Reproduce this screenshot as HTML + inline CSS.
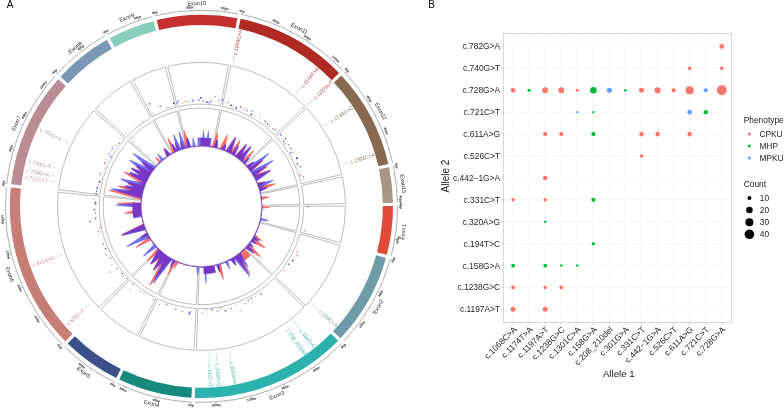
<!DOCTYPE html>
<html><head><meta charset="utf-8"><style>
html,body{margin:0;padding:0;background:#fff;width:784px;height:408px;overflow:hidden}
svg{display:block;font-family:"Liberation Sans", sans-serif;will-change:transform}
</style></head><body>
<svg width="784" height="408" viewBox="0 0 784 408">
<rect width="784" height="408" fill="#fff"/>
<text x="6.7" y="7.9" font-size="10" fill="#000">A</text>
<text x="428.2" y="7.9" font-size="10" fill="#000">B</text>
<path d="M397.5 206.06A196.05 196.05 0 0 1 391.17 255.82" fill="none" stroke="#555" stroke-width="0.45"/>
<line x1="397.5" y1="206.06" x2="399.25" y2="206.05" stroke="#555" stroke-width="0.4"/>
<text x="400.75" y="206.05" transform="rotate(89.9 400.75 206.05)" font-size="3.2" text-anchor="middle" dominant-baseline="central" fill="#111" font-weight="bold">0bp</text>
<line x1="397.34" y1="214.44" x2="398.18" y2="214.47" stroke="#555" stroke-width="0.4"/>
<line x1="396.81" y1="222.81" x2="397.66" y2="222.88" stroke="#555" stroke-width="0.4"/>
<line x1="395.93" y1="231.14" x2="396.78" y2="231.25" stroke="#555" stroke-width="0.4"/>
<line x1="394.7" y1="239.43" x2="396.42" y2="239.73" stroke="#555" stroke-width="0.4"/>
<text x="397.9" y="239.98" transform="rotate(-80.3 397.9 239.98)" font-size="3.2" text-anchor="middle" dominant-baseline="central" fill="#111" font-weight="bold">40bp</text>
<line x1="393.11" y1="247.66" x2="393.94" y2="247.84" stroke="#555" stroke-width="0.4"/>
<line x1="391.17" y1="255.82" x2="391.99" y2="256.03" stroke="#555" stroke-width="0.4"/>
<text x="403.03" y="232.04" transform="rotate(-82.75 403.03 232.04)" font-size="5.5" text-anchor="middle" dominant-baseline="central" fill="#222">Exon1</text>
<path d="M390.28 259.12A196.05 196.05 0 0 1 343.66 341.35" fill="none" stroke="#555" stroke-width="0.45"/>
<line x1="390.28" y1="259.12" x2="391.96" y2="259.59" stroke="#555" stroke-width="0.4"/>
<text x="393.41" y="260" transform="rotate(-74.4 393.41 260)" font-size="3.2" text-anchor="middle" dominant-baseline="central" fill="#111" font-weight="bold">0bp</text>
<line x1="387.71" y1="267.58" x2="388.52" y2="267.84" stroke="#555" stroke-width="0.4"/>
<line x1="384.76" y1="275.91" x2="385.56" y2="276.21" stroke="#555" stroke-width="0.4"/>
<line x1="381.44" y1="284.1" x2="382.22" y2="284.44" stroke="#555" stroke-width="0.4"/>
<line x1="377.76" y1="292.14" x2="379.33" y2="292.9" stroke="#555" stroke-width="0.4"/>
<text x="380.68" y="293.56" transform="rotate(-64.07 380.68 293.56)" font-size="3.2" text-anchor="middle" dominant-baseline="central" fill="#111" font-weight="bold">40bp</text>
<line x1="373.71" y1="300" x2="374.46" y2="300.4" stroke="#555" stroke-width="0.4"/>
<line x1="369.32" y1="307.67" x2="370.05" y2="308.11" stroke="#555" stroke-width="0.4"/>
<line x1="364.59" y1="315.13" x2="365.29" y2="315.6" stroke="#555" stroke-width="0.4"/>
<line x1="359.52" y1="322.37" x2="360.93" y2="323.41" stroke="#555" stroke-width="0.4"/>
<text x="362.14" y="324.29" transform="rotate(-53.73 362.14 324.29)" font-size="3.2" text-anchor="middle" dominant-baseline="central" fill="#111" font-weight="bold">80bp</text>
<line x1="354.13" y1="329.38" x2="354.79" y2="329.91" stroke="#555" stroke-width="0.4"/>
<line x1="348.43" y1="336.14" x2="349.07" y2="336.7" stroke="#555" stroke-width="0.4"/>
<text x="378.22" y="306.61" transform="rotate(-60.45 378.22 306.61)" font-size="5.5" text-anchor="middle" dominant-baseline="central" fill="#222">Exon2</text>
<path d="M341.28 343.81A196.05 196.05 0 0 1 194.61 402.33" fill="none" stroke="#555" stroke-width="0.45"/>
<line x1="341.28" y1="343.81" x2="342.53" y2="345.04" stroke="#555" stroke-width="0.4"/>
<text x="343.6" y="346.09" transform="rotate(-45.5 343.6 346.09)" font-size="3.2" text-anchor="middle" dominant-baseline="central" fill="#111" font-weight="bold">0bp</text>
<line x1="334.95" y1="349.97" x2="335.53" y2="350.59" stroke="#555" stroke-width="0.4"/>
<line x1="328.35" y1="355.84" x2="328.9" y2="356.49" stroke="#555" stroke-width="0.4"/>
<line x1="321.49" y1="361.4" x2="322.01" y2="362.08" stroke="#555" stroke-width="0.4"/>
<line x1="314.39" y1="366.65" x2="315.39" y2="368.08" stroke="#555" stroke-width="0.4"/>
<text x="316.26" y="369.31" transform="rotate(-35.17 316.26 369.31)" font-size="3.2" text-anchor="middle" dominant-baseline="central" fill="#111" font-weight="bold">40bp</text>
<line x1="307.05" y1="371.58" x2="307.51" y2="372.29" stroke="#555" stroke-width="0.4"/>
<line x1="299.51" y1="376.17" x2="299.93" y2="376.9" stroke="#555" stroke-width="0.4"/>
<line x1="291.76" y1="380.41" x2="292.15" y2="381.16" stroke="#555" stroke-width="0.4"/>
<line x1="283.83" y1="384.3" x2="284.57" y2="385.89" stroke="#555" stroke-width="0.4"/>
<text x="285.2" y="387.25" transform="rotate(-24.85 285.2 387.25)" font-size="3.2" text-anchor="middle" dominant-baseline="central" fill="#111" font-weight="bold">80bp</text>
<line x1="275.74" y1="387.83" x2="276.06" y2="388.62" stroke="#555" stroke-width="0.4"/>
<line x1="267.49" y1="390.99" x2="267.77" y2="391.79" stroke="#555" stroke-width="0.4"/>
<line x1="259.11" y1="393.78" x2="259.36" y2="394.59" stroke="#555" stroke-width="0.4"/>
<line x1="250.61" y1="396.19" x2="251.05" y2="397.88" stroke="#555" stroke-width="0.4"/>
<text x="251.42" y="399.33" transform="rotate(-14.52 251.42 399.33)" font-size="3.2" text-anchor="middle" dominant-baseline="central" fill="#111" font-weight="bold">120bp</text>
<line x1="242.01" y1="398.21" x2="242.19" y2="399.04" stroke="#555" stroke-width="0.4"/>
<line x1="233.33" y1="399.84" x2="233.47" y2="400.68" stroke="#555" stroke-width="0.4"/>
<line x1="224.59" y1="401.08" x2="224.69" y2="401.92" stroke="#555" stroke-width="0.4"/>
<line x1="215.79" y1="401.92" x2="215.92" y2="403.67" stroke="#555" stroke-width="0.4"/>
<text x="216.03" y="405.17" transform="rotate(-4.2 216.03 405.17)" font-size="3.2" text-anchor="middle" dominant-baseline="central" fill="#111" font-weight="bold">160bp</text>
<line x1="206.97" y1="402.37" x2="207" y2="403.22" stroke="#555" stroke-width="0.4"/>
<line x1="198.14" y1="402.42" x2="198.13" y2="403.27" stroke="#555" stroke-width="0.4"/>
<text x="276.75" y="395.13" transform="rotate(-21.75 276.75 395.13)" font-size="5.5" text-anchor="middle" dominant-baseline="central" fill="#222">Exon3</text>
<path d="M191.19 402.18A196.05 196.05 0 0 1 117.36 383.5" fill="none" stroke="#555" stroke-width="0.45"/>
<line x1="191.19" y1="402.18" x2="191.1" y2="403.93" stroke="#555" stroke-width="0.4"/>
<text x="191.02" y="405.43" transform="rotate(3 191.02 405.43)" font-size="3.2" text-anchor="middle" dominant-baseline="central" fill="#111" font-weight="bold">0bp</text>
<line x1="182.6" y1="401.54" x2="182.52" y2="402.39" stroke="#555" stroke-width="0.4"/>
<line x1="174.05" y1="400.53" x2="173.93" y2="401.37" stroke="#555" stroke-width="0.4"/>
<line x1="165.55" y1="399.14" x2="165.4" y2="399.97" stroke="#555" stroke-width="0.4"/>
<line x1="157.12" y1="397.37" x2="156.73" y2="399.08" stroke="#555" stroke-width="0.4"/>
<text x="156.39" y="400.54" transform="rotate(13.07 156.39 400.54)" font-size="3.2" text-anchor="middle" dominant-baseline="central" fill="#111" font-weight="bold">40bp</text>
<line x1="148.78" y1="395.24" x2="148.55" y2="396.06" stroke="#555" stroke-width="0.4"/>
<line x1="140.54" y1="392.75" x2="140.27" y2="393.56" stroke="#555" stroke-width="0.4"/>
<line x1="132.41" y1="389.89" x2="132.11" y2="390.69" stroke="#555" stroke-width="0.4"/>
<line x1="124.42" y1="386.68" x2="123.74" y2="388.29" stroke="#555" stroke-width="0.4"/>
<text x="123.15" y="389.67" transform="rotate(23.13 123.15 389.67)" font-size="3.2" text-anchor="middle" dominant-baseline="central" fill="#111" font-weight="bold">80bp</text>
<text x="151.6" y="403.39" transform="rotate(14.2 151.6 403.39)" font-size="5.5" text-anchor="middle" dominant-baseline="central" fill="#222">Exon4</text>
<path d="M114.28 382A196.05 196.05 0 0 1 64.53 346.71" fill="none" stroke="#555" stroke-width="0.45"/>
<line x1="114.28" y1="382" x2="113.5" y2="383.57" stroke="#555" stroke-width="0.4"/>
<text x="112.83" y="384.92" transform="rotate(26.4 112.83 384.92)" font-size="3.2" text-anchor="middle" dominant-baseline="central" fill="#111" font-weight="bold">0bp</text>
<line x1="106.31" y1="377.82" x2="105.89" y2="378.56" stroke="#555" stroke-width="0.4"/>
<line x1="98.53" y1="373.26" x2="98.09" y2="373.99" stroke="#555" stroke-width="0.4"/>
<line x1="90.98" y1="368.36" x2="90.5" y2="369.06" stroke="#555" stroke-width="0.4"/>
<line x1="83.66" y1="363.12" x2="82.61" y2="364.52" stroke="#555" stroke-width="0.4"/>
<text x="81.7" y="365.72" transform="rotate(36.93 81.7 365.72)" font-size="3.2" text-anchor="middle" dominant-baseline="central" fill="#111" font-weight="bold">40bp</text>
<line x1="76.58" y1="357.54" x2="76.04" y2="358.2" stroke="#555" stroke-width="0.4"/>
<line x1="69.77" y1="351.65" x2="69.2" y2="352.28" stroke="#555" stroke-width="0.4"/>
<text x="83.88" y="372.14" transform="rotate(35.35 83.88 372.14)" font-size="5.5" text-anchor="middle" dominant-baseline="central" fill="#222">Exon5</text>
<path d="M62.1 344.3A196.05 196.05 0 0 1 6.35 187.1" fill="none" stroke="#555" stroke-width="0.45"/>
<line x1="62.1" y1="344.3" x2="60.85" y2="345.53" stroke="#555" stroke-width="0.4"/>
<text x="59.79" y="346.59" transform="rotate(45.3 59.79 346.59)" font-size="3.2" text-anchor="middle" dominant-baseline="central" fill="#111" font-weight="bold">0bp</text>
<line x1="56.09" y1="337.95" x2="55.46" y2="338.52" stroke="#555" stroke-width="0.4"/>
<line x1="50.37" y1="331.34" x2="49.71" y2="331.88" stroke="#555" stroke-width="0.4"/>
<line x1="44.94" y1="324.47" x2="44.27" y2="324.99" stroke="#555" stroke-width="0.4"/>
<line x1="39.83" y1="317.38" x2="38.39" y2="318.37" stroke="#555" stroke-width="0.4"/>
<text x="37.16" y="319.22" transform="rotate(55.52 37.16 319.22)" font-size="3.2" text-anchor="middle" dominant-baseline="central" fill="#111" font-weight="bold">40bp</text>
<line x1="35.05" y1="310.06" x2="34.33" y2="310.51" stroke="#555" stroke-width="0.4"/>
<line x1="30.59" y1="302.54" x2="29.85" y2="302.95" stroke="#555" stroke-width="0.4"/>
<line x1="26.47" y1="294.82" x2="25.71" y2="295.21" stroke="#555" stroke-width="0.4"/>
<line x1="22.7" y1="286.93" x2="21.11" y2="287.65" stroke="#555" stroke-width="0.4"/>
<text x="19.74" y="288.27" transform="rotate(65.75 19.74 288.27)" font-size="3.2" text-anchor="middle" dominant-baseline="central" fill="#111" font-weight="bold">80bp</text>
<line x1="19.29" y1="278.88" x2="18.5" y2="279.2" stroke="#555" stroke-width="0.4"/>
<line x1="16.24" y1="270.69" x2="15.44" y2="270.96" stroke="#555" stroke-width="0.4"/>
<line x1="13.56" y1="262.36" x2="12.74" y2="262.61" stroke="#555" stroke-width="0.4"/>
<line x1="11.25" y1="253.93" x2="9.55" y2="254.35" stroke="#555" stroke-width="0.4"/>
<text x="8.1" y="254.72" transform="rotate(75.97 8.1 254.72)" font-size="3.2" text-anchor="middle" dominant-baseline="central" fill="#111" font-weight="bold">120bp</text>
<line x1="9.32" y1="245.4" x2="8.49" y2="245.57" stroke="#555" stroke-width="0.4"/>
<line x1="7.77" y1="236.79" x2="6.93" y2="236.92" stroke="#555" stroke-width="0.4"/>
<line x1="6.61" y1="228.13" x2="5.76" y2="228.22" stroke="#555" stroke-width="0.4"/>
<line x1="5.83" y1="219.42" x2="4.09" y2="219.53" stroke="#555" stroke-width="0.4"/>
<text x="2.59" y="219.63" transform="rotate(86.19 2.59 219.63)" font-size="3.2" text-anchor="middle" dominant-baseline="central" fill="#111" font-weight="bold">160bp</text>
<line x1="5.45" y1="210.68" x2="4.6" y2="210.7" stroke="#555" stroke-width="0.4"/>
<line x1="5.45" y1="201.93" x2="4.6" y2="201.92" stroke="#555" stroke-width="0.4"/>
<line x1="5.84" y1="193.2" x2="5" y2="193.14" stroke="#555" stroke-width="0.4"/>
<text x="9.93" y="274.31" transform="rotate(70.47 9.93 274.31)" font-size="5.5" text-anchor="middle" dominant-baseline="central" fill="#222">Exon6</text>
<path d="M6.72 183.7A196.05 196.05 0 0 1 54.84 76.24" fill="none" stroke="#555" stroke-width="0.45"/>
<line x1="6.72" y1="183.7" x2="4.98" y2="183.49" stroke="#555" stroke-width="0.4"/>
<text x="3.49" y="183.32" transform="rotate(276.65 3.49 183.32)" font-size="3.2" text-anchor="middle" dominant-baseline="central" fill="#111" font-weight="bold">0bp</text>
<line x1="7.93" y1="174.99" x2="7.09" y2="174.85" stroke="#555" stroke-width="0.4"/>
<line x1="9.54" y1="166.34" x2="8.7" y2="166.17" stroke="#555" stroke-width="0.4"/>
<line x1="11.52" y1="157.78" x2="10.7" y2="157.57" stroke="#555" stroke-width="0.4"/>
<line x1="13.9" y1="149.31" x2="12.22" y2="148.8" stroke="#555" stroke-width="0.4"/>
<text x="10.79" y="148.37" transform="rotate(286.93 10.79 148.37)" font-size="3.2" text-anchor="middle" dominant-baseline="central" fill="#111" font-weight="bold">40bp</text>
<line x1="16.64" y1="140.96" x2="15.84" y2="140.68" stroke="#555" stroke-width="0.4"/>
<line x1="19.76" y1="132.74" x2="18.98" y2="132.42" stroke="#555" stroke-width="0.4"/>
<line x1="23.25" y1="124.67" x2="22.48" y2="124.31" stroke="#555" stroke-width="0.4"/>
<line x1="27.09" y1="116.76" x2="25.54" y2="115.96" stroke="#555" stroke-width="0.4"/>
<text x="24.2" y="115.27" transform="rotate(297.21 24.2 115.27)" font-size="3.2" text-anchor="middle" dominant-baseline="central" fill="#111" font-weight="bold">80bp</text>
<line x1="31.29" y1="109.03" x2="30.55" y2="108.61" stroke="#555" stroke-width="0.4"/>
<line x1="35.83" y1="101.5" x2="35.11" y2="101.05" stroke="#555" stroke-width="0.4"/>
<line x1="40.7" y1="94.18" x2="40" y2="93.69" stroke="#555" stroke-width="0.4"/>
<line x1="45.89" y1="87.08" x2="44.5" y2="86.02" stroke="#555" stroke-width="0.4"/>
<text x="43.31" y="85.11" transform="rotate(307.49 43.31 85.11)" font-size="3.2" text-anchor="middle" dominant-baseline="central" fill="#111" font-weight="bold">120bp</text>
<line x1="51.39" y1="80.23" x2="50.74" y2="79.68" stroke="#555" stroke-width="0.4"/>
<text x="16" y="123.35" transform="rotate(294.12 16 123.35)" font-size="5.5" text-anchor="middle" dominant-baseline="central" fill="#222">Exon7</text>
<path d="M57.14 73.7A196.05 196.05 0 0 1 104.61 35.94" fill="none" stroke="#555" stroke-width="0.45"/>
<line x1="57.14" y1="73.7" x2="55.85" y2="72.51" stroke="#555" stroke-width="0.4"/>
<text x="54.75" y="71.5" transform="rotate(312.6 54.75 71.5)" font-size="3.2" text-anchor="middle" dominant-baseline="central" fill="#111" font-weight="bold">0bp</text>
<line x1="63.17" y1="67.43" x2="62.57" y2="66.82" stroke="#555" stroke-width="0.4"/>
<line x1="69.47" y1="61.43" x2="68.9" y2="60.8" stroke="#555" stroke-width="0.4"/>
<line x1="76.03" y1="55.72" x2="75.49" y2="55.06" stroke="#555" stroke-width="0.4"/>
<line x1="82.84" y1="50.3" x2="81.78" y2="48.91" stroke="#555" stroke-width="0.4"/>
<text x="80.87" y="47.71" transform="rotate(322.77 80.87 47.71)" font-size="3.2" text-anchor="middle" dominant-baseline="central" fill="#111" font-weight="bold">40bp</text>
<line x1="89.88" y1="45.19" x2="89.4" y2="44.49" stroke="#555" stroke-width="0.4"/>
<line x1="97.15" y1="40.4" x2="96.69" y2="39.68" stroke="#555" stroke-width="0.4"/>
<line x1="104.61" y1="35.94" x2="104.19" y2="35.2" stroke="#555" stroke-width="0.4"/>
<text x="74.96" y="47.37" transform="rotate(321.5 74.96 47.37)" font-size="5.5" text-anchor="middle" dominant-baseline="central" fill="#222">Exon8</text>
<path d="M107.6 34.27A196.05 196.05 0 0 1 152.36 16.59" fill="none" stroke="#555" stroke-width="0.45"/>
<line x1="107.6" y1="34.27" x2="106.76" y2="32.73" stroke="#555" stroke-width="0.4"/>
<text x="106.05" y="31.42" transform="rotate(331.4 106.05 31.42)" font-size="3.2" text-anchor="middle" dominant-baseline="central" fill="#111" font-weight="bold">0bp</text>
<line x1="115.12" y1="30.38" x2="114.74" y2="29.62" stroke="#555" stroke-width="0.4"/>
<line x1="122.8" y1="26.82" x2="122.46" y2="26.04" stroke="#555" stroke-width="0.4"/>
<line x1="130.62" y1="23.59" x2="130.31" y2="22.8" stroke="#555" stroke-width="0.4"/>
<line x1="138.58" y1="20.71" x2="138.02" y2="19.05" stroke="#555" stroke-width="0.4"/>
<text x="137.53" y="17.63" transform="rotate(341.29 137.53 17.63)" font-size="3.2" text-anchor="middle" dominant-baseline="central" fill="#111" font-weight="bold">40bp</text>
<line x1="146.65" y1="18.16" x2="146.41" y2="17.35" stroke="#555" stroke-width="0.4"/>
<text x="126.81" y="17.4" transform="rotate(338.45 126.81 17.4)" font-size="5.5" text-anchor="middle" dominant-baseline="central" fill="#222">Exon9</text>
<path d="M155.68 15.77A196.05 196.05 0 0 1 238.19 13.82" fill="none" stroke="#555" stroke-width="0.45"/>
<line x1="155.68" y1="15.77" x2="155.27" y2="14.07" stroke="#555" stroke-width="0.4"/>
<text x="154.92" y="12.61" transform="rotate(346.5 154.92 12.61)" font-size="3.2" text-anchor="middle" dominant-baseline="central" fill="#111" font-weight="bold">0bp</text>
<line x1="164.15" y1="13.93" x2="163.99" y2="13.1" stroke="#555" stroke-width="0.4"/>
<line x1="172.68" y1="12.47" x2="172.56" y2="11.63" stroke="#555" stroke-width="0.4"/>
<line x1="181.28" y1="11.39" x2="181.19" y2="10.55" stroke="#555" stroke-width="0.4"/>
<line x1="189.91" y1="10.69" x2="189.81" y2="8.94" stroke="#555" stroke-width="0.4"/>
<text x="189.72" y="7.45" transform="rotate(356.62 189.72 7.45)" font-size="3.2" text-anchor="middle" dominant-baseline="central" fill="#111" font-weight="bold">40bp</text>
<line x1="198.56" y1="10.37" x2="198.55" y2="9.52" stroke="#555" stroke-width="0.4"/>
<line x1="207.22" y1="10.44" x2="207.25" y2="9.59" stroke="#555" stroke-width="0.4"/>
<line x1="215.87" y1="10.88" x2="215.93" y2="10.03" stroke="#555" stroke-width="0.4"/>
<line x1="224.49" y1="11.71" x2="224.7" y2="9.97" stroke="#555" stroke-width="0.4"/>
<text x="224.88" y="8.48" transform="rotate(366.75 224.88 8.48)" font-size="3.2" text-anchor="middle" dominant-baseline="central" fill="#111" font-weight="bold">80bp</text>
<line x1="233.07" y1="12.92" x2="233.21" y2="12.08" stroke="#555" stroke-width="0.4"/>
<text x="196.66" y="3.26" transform="rotate(358.65 196.66 3.26)" font-size="5.5" text-anchor="middle" dominant-baseline="central" fill="#222">Exon10</text>
<path d="M241.54 14.49A196.05 196.05 0 0 1 342.24 69.97" fill="none" stroke="#555" stroke-width="0.45"/>
<line x1="241.54" y1="14.49" x2="241.9" y2="12.78" stroke="#555" stroke-width="0.4"/>
<text x="242.21" y="11.31" transform="rotate(371.8 242.21 11.31)" font-size="3.2" text-anchor="middle" dominant-baseline="central" fill="#111" font-weight="bold">0bp</text>
<line x1="250.02" y1="16.46" x2="250.23" y2="15.64" stroke="#555" stroke-width="0.4"/>
<line x1="258.41" y1="18.81" x2="258.65" y2="17.99" stroke="#555" stroke-width="0.4"/>
<line x1="266.68" y1="21.52" x2="266.96" y2="20.72" stroke="#555" stroke-width="0.4"/>
<line x1="274.83" y1="24.6" x2="275.48" y2="22.98" stroke="#555" stroke-width="0.4"/>
<text x="276.04" y="21.59" transform="rotate(381.98 276.04 21.59)" font-size="3.2" text-anchor="middle" dominant-baseline="central" fill="#111" font-weight="bold">40bp</text>
<line x1="282.82" y1="28.04" x2="283.18" y2="27.26" stroke="#555" stroke-width="0.4"/>
<line x1="290.66" y1="31.82" x2="291.05" y2="31.07" stroke="#555" stroke-width="0.4"/>
<line x1="298.33" y1="35.96" x2="298.75" y2="35.22" stroke="#555" stroke-width="0.4"/>
<line x1="305.8" y1="40.43" x2="306.73" y2="38.95" stroke="#555" stroke-width="0.4"/>
<text x="307.53" y="37.68" transform="rotate(392.16 307.53 37.68)" font-size="3.2" text-anchor="middle" dominant-baseline="central" fill="#111" font-weight="bold">80bp</text>
<line x1="313.07" y1="45.22" x2="313.55" y2="44.53" stroke="#555" stroke-width="0.4"/>
<line x1="320.11" y1="50.34" x2="320.63" y2="49.66" stroke="#555" stroke-width="0.4"/>
<line x1="326.92" y1="55.76" x2="327.47" y2="55.11" stroke="#555" stroke-width="0.4"/>
<line x1="333.49" y1="61.48" x2="334.67" y2="60.19" stroke="#555" stroke-width="0.4"/>
<text x="335.68" y="59.08" transform="rotate(402.34 335.68 59.08)" font-size="3.2" text-anchor="middle" dominant-baseline="central" fill="#111" font-weight="bold">120bp</text>
<line x1="339.79" y1="67.49" x2="340.39" y2="66.88" stroke="#555" stroke-width="0.4"/>
<text x="299.5" y="28.42" transform="rotate(388.85 299.5 28.42)" font-size="5.5" text-anchor="middle" dominant-baseline="central" fill="#222">Exon11</text>
<path d="M344.6 72.44A196.05 196.05 0 0 1 392.63 162.97" fill="none" stroke="#555" stroke-width="0.45"/>
<line x1="344.6" y1="72.44" x2="345.88" y2="71.25" stroke="#555" stroke-width="0.4"/>
<text x="346.97" y="70.22" transform="rotate(406.9 346.97 70.22)" font-size="3.2" text-anchor="middle" dominant-baseline="central" fill="#111" font-weight="bold">0bp</text>
<line x1="350.55" y1="79.11" x2="351.2" y2="78.56" stroke="#555" stroke-width="0.4"/>
<line x1="356.2" y1="86.03" x2="356.87" y2="85.51" stroke="#555" stroke-width="0.4"/>
<line x1="361.53" y1="93.21" x2="362.22" y2="92.72" stroke="#555" stroke-width="0.4"/>
<line x1="366.52" y1="100.62" x2="367.99" y2="99.68" stroke="#555" stroke-width="0.4"/>
<text x="369.25" y="98.87" transform="rotate(417.35 369.25 98.87)" font-size="3.2" text-anchor="middle" dominant-baseline="central" fill="#111" font-weight="bold">40bp</text>
<line x1="371.17" y1="108.26" x2="371.9" y2="107.83" stroke="#555" stroke-width="0.4"/>
<line x1="375.46" y1="116.09" x2="376.22" y2="115.7" stroke="#555" stroke-width="0.4"/>
<line x1="379.4" y1="124.12" x2="380.17" y2="123.76" stroke="#555" stroke-width="0.4"/>
<line x1="382.96" y1="132.31" x2="384.58" y2="131.65" stroke="#555" stroke-width="0.4"/>
<text x="385.97" y="131.09" transform="rotate(427.8 385.97 131.09)" font-size="3.2" text-anchor="middle" dominant-baseline="central" fill="#111" font-weight="bold">80bp</text>
<line x1="386.15" y1="140.66" x2="386.95" y2="140.38" stroke="#555" stroke-width="0.4"/>
<line x1="388.95" y1="149.15" x2="389.77" y2="148.9" stroke="#555" stroke-width="0.4"/>
<line x1="391.37" y1="157.75" x2="392.19" y2="157.54" stroke="#555" stroke-width="0.4"/>
<text x="380.95" y="111.16" transform="rotate(422.05 380.95 111.16)" font-size="5.5" text-anchor="middle" dominant-baseline="central" fill="#222">Exon12</text>
<path d="M393.36 166.31A196.05 196.05 0 0 1 397.46 202.64" fill="none" stroke="#555" stroke-width="0.45"/>
<line x1="393.36" y1="166.31" x2="395.07" y2="165.95" stroke="#555" stroke-width="0.4"/>
<text x="396.54" y="165.64" transform="rotate(438.2 396.54 165.64)" font-size="3.2" text-anchor="middle" dominant-baseline="central" fill="#111" font-weight="bold">0bp</text>
<line x1="394.89" y1="174.49" x2="395.72" y2="174.35" stroke="#555" stroke-width="0.4"/>
<line x1="396.07" y1="182.72" x2="396.91" y2="182.62" stroke="#555" stroke-width="0.4"/>
<line x1="396.89" y1="191" x2="397.74" y2="190.94" stroke="#555" stroke-width="0.4"/>
<line x1="397.37" y1="199.31" x2="399.12" y2="199.25" stroke="#555" stroke-width="0.4"/>
<text x="400.62" y="199.19" transform="rotate(447.93 400.62 199.19)" font-size="3.2" text-anchor="middle" dominant-baseline="central" fill="#111" font-weight="bold">40bp</text>
<text x="403.36" y="183.57" transform="rotate(443.55 403.36 183.57)" font-size="5.5" text-anchor="middle" dominant-baseline="central" fill="#222">Exon13</text>
<path d="M393.05 206.07A191.6 191.6 0 0 1 386.86 254.7L376.99 252.13A181.4 181.4 0 0 0 382.85 206.08Z" fill="#E04A38"/>
<path d="M385.99 257.93A191.6 191.6 0 0 1 340.43 338.29L333.03 331.27A181.4 181.4 0 0 0 376.17 255.18Z" fill="#6D9BA8"/>
<path d="M338.11 340.69A191.6 191.6 0 0 1 194.76 397.88L195.12 387.69A181.4 181.4 0 0 0 330.83 333.54Z" fill="#2BB2AE"/>
<path d="M191.42 397.74A191.6 191.6 0 0 1 119.27 379.48L123.64 370.27A181.4 181.4 0 0 0 191.96 387.55Z" fill="#178A7F"/>
<path d="M116.26 378.02A191.6 191.6 0 0 1 67.63 343.53L74.76 336.23A181.4 181.4 0 0 0 120.79 368.88Z" fill="#3B5088"/>
<path d="M65.26 341.17A191.6 191.6 0 0 1 10.78 187.54L20.93 188.54A181.4 181.4 0 0 0 72.51 334Z" fill="#C67E77"/>
<path d="M11.14 184.21A191.6 191.6 0 0 1 58.17 79.19L65.8 85.96A181.4 181.4 0 0 0 21.27 185.39Z" fill="#BA8C93"/>
<path d="M60.41 76.71A191.6 191.6 0 0 1 106.81 39.8L111.85 48.67A181.4 181.4 0 0 0 67.92 83.61Z" fill="#7A98B5"/>
<path d="M109.73 38.18A191.6 191.6 0 0 1 153.48 20.9L156.03 30.78A181.4 181.4 0 0 0 114.62 47.13Z" fill="#88CEBB"/>
<path d="M156.72 20.09A191.6 191.6 0 0 1 237.35 18.19L235.44 28.21A181.4 181.4 0 0 0 159.1 30.01Z" fill="#C5302E"/>
<path d="M240.63 18.85A191.6 191.6 0 0 1 339.04 73.06L331.72 80.16A181.4 181.4 0 0 0 238.55 28.83Z" fill="#AE2A23"/>
<path d="M341.35 75.48A191.6 191.6 0 0 1 388.29 163.95L378.34 166.21A181.4 181.4 0 0 0 333.9 82.45Z" fill="#876A4F"/>
<path d="M389 167.22A191.6 191.6 0 0 1 393.01 202.72L382.82 202.92A181.4 181.4 0 0 0 379.02 169.3Z" fill="#A99580"/>
<line x1="233.02" y1="62.83" x2="234.5" y2="56.06" stroke="#AE2A23" stroke-width="0.35" opacity="0.8"/>
<text x="240.32" y="29.62" transform="rotate(-77.6 240.32 29.62)" font-size="5.2" text-anchor="end" dominant-baseline="central" fill="#AE2A23" opacity="0.9">c.1068C&gt;A</text>
<line x1="295.94" y1="93.79" x2="301.01" y2="87.75" stroke="#AE2A23" stroke-width="0.35" opacity="0.8"/>
<text x="317.79" y="67.75" transform="rotate(-50 317.79 67.75)" font-size="5.2" text-anchor="end" dominant-baseline="central" fill="#AE2A23" opacity="0.9">c.1174T&gt;A</text>
<line x1="307.55" y1="104.65" x2="313.25" y2="99.19" stroke="#AE2A23" stroke-width="0.35" opacity="0.8"/>
<text x="332.09" y="81.12" transform="rotate(-43.8 332.09 81.12)" font-size="5.2" text-anchor="end" dominant-baseline="central" fill="#AE2A23" opacity="0.9">c.1197A&gt;T</text>
<line x1="324.31" y1="125.69" x2="329.62" y2="122.21" stroke="#876A4F" stroke-width="0.35" opacity="0.8"/>
<text x="352.73" y="107.03" transform="rotate(-33.3 352.73 107.03)" font-size="5.2" text-anchor="end" dominant-baseline="central" fill="#876A4F" opacity="0.9">c.1238G&gt;C</text>
<line x1="342.25" y1="164.16" x2="348.89" y2="162.17" stroke="#876A4F" stroke-width="0.35" opacity="0.8"/>
<text x="374.82" y="154.39" transform="rotate(-16.7 374.82 154.39)" font-size="5.2" text-anchor="end" dominant-baseline="central" fill="#876A4F" opacity="0.9">c.1301C&gt;A</text>
<line x1="311.72" y1="303.61" x2="318.86" y2="309.92" stroke="#6D9BA8" stroke-width="0.35" opacity="0.8"/>
<text x="337.22" y="326.1" transform="rotate(41.4 337.22 326.1)" font-size="5.2" text-anchor="end" dominant-baseline="central" fill="#6D9BA8" opacity="0.9">c.158G&gt;A</text>
<line x1="293.56" y1="320.96" x2="299.9" y2="328.84" stroke="#2BB2AE" stroke-width="0.35" opacity="0.8"/>
<text x="314.87" y="347.46" transform="rotate(51.2 314.87 347.46)" font-size="5.2" text-anchor="end" dominant-baseline="central" fill="#2BB2AE" opacity="0.9">c.194T&gt;C</text>
<line x1="285.98" y1="326.67" x2="286.88" y2="327.96" stroke="#2BB2AE" stroke-width="0.35" opacity="0.8"/>
<text x="305.53" y="354.49" transform="rotate(54.9 305.53 354.49)" font-size="5.2" text-anchor="end" dominant-baseline="central" fill="#2BB2AE" opacity="0.9">c.208_210del</text>
<line x1="229.25" y1="350.75" x2="231.05" y2="360.11" stroke="#2BB2AE" stroke-width="0.35" opacity="0.8"/>
<text x="235.68" y="384.13" transform="rotate(79.1 235.68 384.13)" font-size="5.2" text-anchor="end" dominant-baseline="central" fill="#2BB2AE" opacity="0.9">c.301G&gt;A</text>
<line x1="216.05" y1="352.67" x2="217" y2="362.16" stroke="#2BB2AE" stroke-width="0.35" opacity="0.8"/>
<text x="219.43" y="386.51" transform="rotate(84.3 219.43 386.51)" font-size="5.2" text-anchor="end" dominant-baseline="central" fill="#2BB2AE" opacity="0.9">c.320A&gt;G</text>
<line x1="209.14" y1="353.2" x2="209.67" y2="363.3" stroke="#2BB2AE" stroke-width="0.35" opacity="0.8"/>
<text x="210.92" y="387.15" transform="rotate(87 210.92 387.15)" font-size="5.2" text-anchor="end" dominant-baseline="central" fill="#2BB2AE" opacity="0.9">c.331C&gt;T</text>
<line x1="90.85" y1="303.23" x2="85.04" y2="308.31" stroke="#C67E77" stroke-width="0.35" opacity="0.8"/>
<text x="67.07" y="324.04" transform="rotate(-41.2 67.07 324.04)" font-size="5.2" text-anchor="start" dominant-baseline="central" fill="#C67E77" opacity="0.9">c.526C&gt;T</text>
<line x1="62.54" y1="254.5" x2="55.44" y2="256.96" stroke="#C67E77" stroke-width="0.35" opacity="0.8"/>
<text x="32.68" y="264.84" transform="rotate(-19.1 32.68 264.84)" font-size="5.2" text-anchor="start" dominant-baseline="central" fill="#C67E77" opacity="0.9">c.611A&gt;G</text>
<line x1="56.47" y1="182.14" x2="48.86" y2="180.87" stroke="#BA8C93" stroke-width="0.35" opacity="0.8"/>
<text x="25.3" y="176.92" transform="rotate(9.5 25.3 176.92)" font-size="5.2" text-anchor="start" dominant-baseline="central" fill="#BA8C93" opacity="0.9">c.721C&gt;T</text>
<line x1="57.5" y1="176.59" x2="50.52" y2="175.14" stroke="#BA8C93" stroke-width="0.35" opacity="0.8"/>
<text x="26.56" y="170.18" transform="rotate(11.7 26.56 170.18)" font-size="5.2" text-anchor="start" dominant-baseline="central" fill="#BA8C93" opacity="0.9">c.728G&gt;A</text>
<line x1="59.26" y1="169.1" x2="52.08" y2="167.21" stroke="#BA8C93" stroke-width="0.35" opacity="0.8"/>
<text x="28.7" y="161.08" transform="rotate(14.7 28.7 161.08)" font-size="5.2" text-anchor="start" dominant-baseline="central" fill="#BA8C93" opacity="0.9">c.740G&gt;T</text>
<line x1="68.88" y1="142.88" x2="62.45" y2="139.8" stroke="#BA8C93" stroke-width="0.35" opacity="0.8"/>
<text x="40.38" y="129.23" transform="rotate(25.6 40.38 129.23)" font-size="5.2" text-anchor="start" dominant-baseline="central" fill="#BA8C93" opacity="0.9">c.782G&gt;A</text>
<path d="M345.45 206.15A144 144 0 0 1 340.8 242.7L300.45 232.19A102.3 102.3 0 0 0 303.75 206.22Z" fill="none" stroke="#A0A0A0" stroke-width="0.7"/>
<path d="M299.75 206.23A98.3 98.3 0 0 1 296.58 231.18L259.51 221.52A60 60 0 0 0 261.45 206.3Z" fill="none" stroke="#A0A0A0" stroke-width="0.7"/>
<path d="M340.15 245.12A144 144 0 0 1 305.9 305.52L275.66 276.82A102.3 102.3 0 0 0 299.98 233.91Z" fill="none" stroke="#A0A0A0" stroke-width="0.7"/>
<path d="M296.13 232.83A98.3 98.3 0 0 1 272.75 274.07L244.97 247.7A60 60 0 0 0 259.24 222.54Z" fill="none" stroke="#A0A0A0" stroke-width="0.7"/>
<path d="M304.16 307.33A144 144 0 0 1 196.42 350.31L197.88 308.64A102.3 102.3 0 0 0 274.42 278.1Z" fill="none" stroke="#A0A0A0" stroke-width="0.7"/>
<path d="M271.56 275.3A98.3 98.3 0 0 1 198.02 304.64L199.36 266.36A60 60 0 0 0 244.25 248.45Z" fill="none" stroke="#A0A0A0" stroke-width="0.7"/>
<path d="M193.91 350.2A144 144 0 0 1 139.68 336.48L157.57 298.81A102.3 102.3 0 0 0 196.1 308.56Z" fill="none" stroke="#A0A0A0" stroke-width="0.7"/>
<path d="M196.31 304.57A98.3 98.3 0 0 1 159.29 295.2L175.71 260.6A60 60 0 0 0 198.31 266.32Z" fill="none" stroke="#A0A0A0" stroke-width="0.7"/>
<path d="M137.42 335.38A144 144 0 0 1 100.88 309.46L130 279.62A102.3 102.3 0 0 0 155.96 298.03Z" fill="none" stroke="#A0A0A0" stroke-width="0.7"/>
<path d="M157.74 294.45A98.3 98.3 0 0 1 132.8 276.75L159.55 249.34A60 60 0 0 0 174.77 260.14Z" fill="none" stroke="#A0A0A0" stroke-width="0.7"/>
<path d="M99.09 307.69A144 144 0 0 1 58.15 192.22L99.65 196.33A102.3 102.3 0 0 0 128.74 278.36Z" fill="none" stroke="#A0A0A0" stroke-width="0.7"/>
<path d="M131.58 275.54A98.3 98.3 0 0 1 103.63 196.72L141.74 200.49A60 60 0 0 0 158.8 248.6Z" fill="none" stroke="#A0A0A0" stroke-width="0.7"/>
<path d="M58.42 189.72A144 144 0 0 1 93.77 110.79L124.95 138.48A102.3 102.3 0 0 0 99.84 194.55Z" fill="none" stroke="#A0A0A0" stroke-width="0.7"/>
<path d="M103.81 195.02A98.3 98.3 0 0 1 127.94 141.14L156.58 166.56A60 60 0 0 0 141.85 199.45Z" fill="none" stroke="#A0A0A0" stroke-width="0.7"/>
<path d="M95.45 108.93A144 144 0 0 1 130.32 81.19L150.92 117.45A102.3 102.3 0 0 0 126.15 137.16Z" fill="none" stroke="#A0A0A0" stroke-width="0.7"/>
<path d="M129.09 139.86A98.3 98.3 0 0 1 152.9 120.93L171.81 154.23A60 60 0 0 0 157.28 165.79Z" fill="none" stroke="#A0A0A0" stroke-width="0.7"/>
<path d="M132.52 79.97A144 144 0 0 1 165.4 66.99L175.84 107.36A102.3 102.3 0 0 0 152.48 116.58Z" fill="none" stroke="#A0A0A0" stroke-width="0.7"/>
<path d="M154.39 120.09A98.3 98.3 0 0 1 176.84 111.23L186.43 148.31A60 60 0 0 0 172.73 153.72Z" fill="none" stroke="#A0A0A0" stroke-width="0.7"/>
<path d="M167.83 66.38A144 144 0 0 1 228.43 64.95L220.62 105.91A102.3 102.3 0 0 0 177.57 106.93Z" fill="none" stroke="#A0A0A0" stroke-width="0.7"/>
<path d="M178.5 110.82A98.3 98.3 0 0 1 219.87 109.84L212.69 147.46A60 60 0 0 0 187.44 148.06Z" fill="none" stroke="#A0A0A0" stroke-width="0.7"/>
<path d="M230.9 65.44A144 144 0 0 1 304.86 106.19L274.91 135.21A102.3 102.3 0 0 0 222.37 106.26Z" fill="none" stroke="#A0A0A0" stroke-width="0.7"/>
<path d="M221.55 110.18A98.3 98.3 0 0 1 272.04 137.99L244.54 164.65A60 60 0 0 0 213.72 147.67Z" fill="none" stroke="#A0A0A0" stroke-width="0.7"/>
<path d="M306.59 108.01A144 144 0 0 1 341.87 174.5L301.21 183.74A102.3 102.3 0 0 0 276.15 136.5Z" fill="none" stroke="#A0A0A0" stroke-width="0.7"/>
<path d="M273.22 139.23A98.3 98.3 0 0 1 297.31 184.62L259.96 193.11A60 60 0 0 0 245.26 165.4Z" fill="none" stroke="#A0A0A0" stroke-width="0.7"/>
<path d="M342.41 176.95A144 144 0 0 1 345.42 203.64L303.73 204.44A102.3 102.3 0 0 0 301.59 185.48Z" fill="none" stroke="#A0A0A0" stroke-width="0.7"/>
<path d="M297.67 186.3A98.3 98.3 0 0 1 299.73 204.51L261.44 205.25A60 60 0 0 0 260.18 194.13Z" fill="none" stroke="#A0A0A0" stroke-width="0.7"/>
<rect x="126.25" y="278.07" width="0.9" height="0.9" fill="#2B2BE0" opacity="1"/>
<rect x="122.59" y="275.26" width="1.2" height="1.2" fill="#2B2BE0" opacity="0.75"/>
<rect x="121.39" y="272.95" width="1.2" height="1.2" fill="#2B2BE0" opacity="1"/>
<rect x="115.92" y="267.75" width="1.5" height="1.5" fill="#2B2BE0" opacity="0.5"/>
<rect x="109.8" y="271.71" width="0.9" height="0.9" fill="#2B2BE0" opacity="1"/>
<rect x="111.45" y="264.09" width="0.9" height="0.9" fill="#2B2BE0" opacity="0.75"/>
<rect x="110.05" y="257.17" width="1.2" height="1.2" fill="#2B2BE0" opacity="0.75"/>
<rect x="105.47" y="253.95" width="1.5" height="1.5" fill="#2B2BE0" opacity="0.5"/>
<rect x="104.85" y="251.96" width="0.9" height="0.9" fill="#E85A5A" opacity="0.5"/>
<rect x="104.93" y="247.86" width="1.5" height="1.5" fill="#2B2BE0" opacity="0.75"/>
<rect x="102.8" y="243.21" width="1.2" height="1.2" fill="#2B2BE0" opacity="0.75"/>
<rect x="101.74" y="241.47" width="0.9" height="0.9" fill="#E85A5A" opacity="0.5"/>
<rect x="97.52" y="234.55" width="0.9" height="0.9" fill="#E85A5A" opacity="0.75"/>
<rect x="97.95" y="230.85" width="1.2" height="1.2" fill="#E85A5A" opacity="1"/>
<rect x="99.45" y="226.64" width="1.5" height="1.5" fill="#E85A5A" opacity="0.75"/>
<rect x="88.99" y="220.72" width="1.5" height="1.5" fill="#E85A5A" opacity="1"/>
<rect x="94.83" y="217.78" width="1.5" height="1.5" fill="#2B2BE0" opacity="0.75"/>
<rect x="95.19" y="212.45" width="0.9" height="0.9" fill="#2B2BE0" opacity="1"/>
<rect x="93.61" y="208.89" width="1.5" height="1.5" fill="#2B2BE0" opacity="0.75"/>
<rect x="94.79" y="203.56" width="1.5" height="1.5" fill="#2B2BE0" opacity="0.5"/>
<rect x="94.7" y="201.96" width="1.5" height="1.5" fill="#2B2BE0" opacity="1"/>
<rect x="93.26" y="198.14" width="1.5" height="1.5" fill="#E85A5A" opacity="0.5"/>
<rect x="95.33" y="193.14" width="1.5" height="1.5" fill="#2B2BE0" opacity="0.75"/>
<rect x="95.92" y="190.51" width="1.2" height="1.2" fill="#2B2BE0" opacity="1"/>
<rect x="96.6" y="187.3" width="1.5" height="1.5" fill="#2B2BE0" opacity="1"/>
<rect x="97.59" y="184.37" width="1.5" height="1.5" fill="#E85A5A" opacity="0.5"/>
<rect x="98.72" y="181.08" width="1.5" height="1.5" fill="#2B2BE0" opacity="1"/>
<rect x="99.41" y="173.82" width="1.2" height="1.2" fill="#2B2BE0" opacity="0.75"/>
<rect x="101.4" y="172.29" width="0.9" height="0.9" fill="#2B2BE0" opacity="0.75"/>
<rect x="103.94" y="168.41" width="0.9" height="0.9" fill="#E85A5A" opacity="1"/>
<rect x="105.28" y="166.47" width="0.9" height="0.9" fill="#E85A5A" opacity="0.75"/>
<rect x="103.9" y="162.34" width="1.5" height="1.5" fill="#E85A5A" opacity="1"/>
<rect x="105.45" y="158.61" width="0.9" height="0.9" fill="#E85A5A" opacity="0.75"/>
<rect x="110.06" y="155.82" width="1.5" height="1.5" fill="#2B2BE0" opacity="0.75"/>
<rect x="108.21" y="153.58" width="1.2" height="1.2" fill="#2B2BE0" opacity="0.75"/>
<rect x="111.04" y="149.41" width="1.5" height="1.5" fill="#E85A5A" opacity="0.75"/>
<rect x="112.05" y="147.33" width="1.5" height="1.5" fill="#2B2BE0" opacity="0.5"/>
<rect x="114.94" y="144.91" width="1.2" height="1.2" fill="#E85A5A" opacity="1"/>
<rect x="118.52" y="142.3" width="1.5" height="1.5" fill="#2B2BE0" opacity="0.5"/>
<rect x="119.29" y="138" width="1.2" height="1.2" fill="#E85A5A" opacity="0.5"/>
<rect x="121.1" y="137.32" width="0.9" height="0.9" fill="#E85A5A" opacity="0.5"/>
<rect x="125.84" y="132.63" width="0.9" height="0.9" fill="#2B2BE0" opacity="0.5"/>
<rect x="134.07" y="121.92" width="1.2" height="1.2" fill="#E85A5A" opacity="0.5"/>
<rect x="141.34" y="121.15" width="1.2" height="1.2" fill="#E85A5A" opacity="0.75"/>
<rect x="152.39" y="113.12" width="1.2" height="1.2" fill="#E85A5A" opacity="0.75"/>
<rect x="148.73" y="103.11" width="1.5" height="1.5" fill="#2B2BE0" opacity="0.75"/>
<rect x="157.66" y="106.1" width="0.9" height="0.9" fill="#2B2BE0" opacity="0.75"/>
<rect x="159.89" y="105.54" width="1.5" height="1.5" fill="#2B2BE0" opacity="0.5"/>
<rect x="165.86" y="107.23" width="1.5" height="1.5" fill="#E85A5A" opacity="0.5"/>
<rect x="168.79" y="106.74" width="0.9" height="0.9" fill="#2B2BE0" opacity="0.75"/>
<rect x="173.1" y="102.5" width="1.5" height="1.5" fill="#2B2BE0" opacity="1"/>
<rect x="176.84" y="102.34" width="1.5" height="1.5" fill="#2B2BE0" opacity="0.5"/>
<rect x="177.49" y="100.33" width="1.5" height="1.5" fill="#2B2BE0" opacity="0.5"/>
<rect x="182.05" y="102.62" width="1.2" height="1.2" fill="#E85A5A" opacity="0.75"/>
<rect x="184.31" y="100.48" width="1.5" height="1.5" fill="#E85A5A" opacity="0.5"/>
<rect x="187.04" y="100.98" width="1.2" height="1.2" fill="#E85A5A" opacity="1"/>
<rect x="192.3" y="99.19" width="1.5" height="1.5" fill="#2B2BE0" opacity="0.5"/>
<rect x="192.2" y="100.81" width="1.2" height="1.2" fill="#2B2BE0" opacity="0.75"/>
<rect x="197.93" y="99.33" width="1.5" height="1.5" fill="#2B2BE0" opacity="0.75"/>
<rect x="200" y="97.09" width="1.5" height="1.5" fill="#2B2BE0" opacity="1"/>
<rect x="202.31" y="100.52" width="1.5" height="1.5" fill="#2B2BE0" opacity="0.5"/>
<rect x="205.97" y="101.34" width="1.5" height="1.5" fill="#2B2BE0" opacity="1"/>
<rect x="208.37" y="101.97" width="1.5" height="1.5" fill="#2B2BE0" opacity="0.5"/>
<rect x="210.34" y="100.81" width="1.2" height="1.2" fill="#2B2BE0" opacity="1"/>
<rect x="214.68" y="95.94" width="0.9" height="0.9" fill="#2B2BE0" opacity="1"/>
<rect x="218.41" y="101.22" width="0.9" height="0.9" fill="#E85A5A" opacity="0.75"/>
<rect x="218.5" y="99.84" width="1.2" height="1.2" fill="#E85A5A" opacity="0.75"/>
<rect x="222.15" y="99.31" width="1.2" height="1.2" fill="#2B2BE0" opacity="1"/>
<rect x="225.02" y="102.2" width="0.9" height="0.9" fill="#2B2BE0" opacity="0.5"/>
<rect x="227.6" y="101.57" width="1.2" height="1.2" fill="#E85A5A" opacity="1"/>
<rect x="230.25" y="104.56" width="1.5" height="1.5" fill="#2B2BE0" opacity="1"/>
<rect x="232.85" y="105.43" width="1.2" height="1.2" fill="#2B2BE0" opacity="0.5"/>
<rect x="235.55" y="107.31" width="1.5" height="1.5" fill="#2B2BE0" opacity="1"/>
<rect x="239.98" y="106.46" width="1.5" height="1.5" fill="#E85A5A" opacity="1"/>
<rect x="243.33" y="108.63" width="1.2" height="1.2" fill="#E85A5A" opacity="1"/>
<rect x="245.25" y="107.34" width="0.9" height="0.9" fill="#2B2BE0" opacity="0.5"/>
<rect x="246.32" y="110.1" width="1.2" height="1.2" fill="#2B2BE0" opacity="1"/>
<rect x="251.86" y="110.48" width="1.5" height="1.5" fill="#2B2BE0" opacity="0.5"/>
<rect x="250.65" y="113.74" width="1.5" height="1.5" fill="#2B2BE0" opacity="1"/>
<rect x="255.43" y="115.88" width="0.9" height="0.9" fill="#E85A5A" opacity="0.5"/>
<rect x="258.87" y="114.53" width="1.2" height="1.2" fill="#E85A5A" opacity="0.5"/>
<rect x="259.56" y="117.4" width="0.9" height="0.9" fill="#2B2BE0" opacity="0.75"/>
<rect x="264.14" y="120.54" width="0.9" height="0.9" fill="#2B2BE0" opacity="0.75"/>
<rect x="264.9" y="121.28" width="0.9" height="0.9" fill="#2B2BE0" opacity="1"/>
<rect x="266.69" y="123.32" width="1.2" height="1.2" fill="#2B2BE0" opacity="1"/>
<rect x="269.07" y="125.35" width="0.9" height="0.9" fill="#2B2BE0" opacity="1"/>
<rect x="272.11" y="127.94" width="1.5" height="1.5" fill="#E85A5A" opacity="0.75"/>
<rect x="274.37" y="128.99" width="1.2" height="1.2" fill="#2B2BE0" opacity="0.75"/>
<rect x="276.74" y="129.64" width="0.9" height="0.9" fill="#E85A5A" opacity="0.75"/>
<rect x="280.32" y="133.63" width="0.9" height="0.9" fill="#E85A5A" opacity="0.75"/>
<rect x="280.19" y="134.31" width="1.2" height="1.2" fill="#2B2BE0" opacity="1"/>
<rect x="284.87" y="137.83" width="1.5" height="1.5" fill="#2B2BE0" opacity="0.75"/>
<rect x="283.1" y="140.82" width="1.2" height="1.2" fill="#2B2BE0" opacity="1"/>
<rect x="284.14" y="143.13" width="1.5" height="1.5" fill="#2B2BE0" opacity="0.5"/>
<rect x="287.98" y="144.31" width="0.9" height="0.9" fill="#2B2BE0" opacity="1"/>
<rect x="290.06" y="147.73" width="1.2" height="1.2" fill="#2B2BE0" opacity="1"/>
<rect x="290.28" y="152.06" width="1.2" height="1.2" fill="#2B2BE0" opacity="1"/>
<rect x="293.15" y="152.24" width="0.9" height="0.9" fill="#E85A5A" opacity="0.75"/>
<rect x="295.93" y="157.65" width="1.5" height="1.5" fill="#2B2BE0" opacity="1"/>
<rect x="296.3" y="157.3" width="1.5" height="1.5" fill="#2B2BE0" opacity="0.75"/>
<rect x="296.81" y="163.09" width="1.2" height="1.2" fill="#2B2BE0" opacity="1"/>
<rect x="299.88" y="165.95" width="0.9" height="0.9" fill="#2B2BE0" opacity="1"/>
<rect x="300.21" y="166.06" width="1.5" height="1.5" fill="#E85A5A" opacity="0.75"/>
<rect x="302.28" y="169.17" width="0.9" height="0.9" fill="#E85A5A" opacity="0.5"/>
<rect x="299.57" y="174.57" width="1.5" height="1.5" fill="#E85A5A" opacity="0.75"/>
<rect x="302.74" y="175.77" width="1.5" height="1.5" fill="#2B2BE0" opacity="0.5"/>
<rect x="302.71" y="179.1" width="0.9" height="0.9" fill="#2B2BE0" opacity="0.5"/>
<rect x="260.39" y="293.43" width="1.5" height="1.5" fill="#2B2BE0" opacity="0.75"/>
<rect x="255.38" y="296.06" width="0.9" height="0.9" fill="#E85A5A" opacity="0.75"/>
<rect x="250.77" y="297.7" width="1.2" height="1.2" fill="#2B2BE0" opacity="1"/>
<rect x="247.57" y="299.72" width="1.5" height="1.5" fill="#2B2BE0" opacity="0.5"/>
<rect x="244.6" y="303.29" width="0.9" height="0.9" fill="#2B2BE0" opacity="1"/>
<rect x="240.56" y="310.21" width="1.2" height="1.2" fill="#2B2BE0" opacity="0.5"/>
<rect x="235.81" y="304.32" width="0.9" height="0.9" fill="#2B2BE0" opacity="0.5"/>
<rect x="230.78" y="307.85" width="1.2" height="1.2" fill="#2B2BE0" opacity="0.5"/>
<rect x="229.72" y="308.68" width="0.9" height="0.9" fill="#2B2BE0" opacity="0.5"/>
<rect x="224.73" y="309.88" width="1.5" height="1.5" fill="#2B2BE0" opacity="0.75"/>
<rect x="220.12" y="307.36" width="1.5" height="1.5" fill="#E85A5A" opacity="0.75"/>
<rect x="216.82" y="310.36" width="1.5" height="1.5" fill="#2B2BE0" opacity="0.5"/>
<rect x="211.43" y="308.82" width="1.5" height="1.5" fill="#2B2BE0" opacity="0.75"/>
<rect x="205.42" y="308.95" width="1.5" height="1.5" fill="#E85A5A" opacity="0.5"/>
<rect x="202" y="312.19" width="1.2" height="1.2" fill="#E85A5A" opacity="0.75"/>
<rect x="296.74" y="251.43" width="1.2" height="1.2" fill="#E85A5A" opacity="1"/>
<rect x="296.63" y="254.84" width="1.5" height="1.5" fill="#E85A5A" opacity="0.75"/>
<rect x="291.98" y="259.92" width="1.5" height="1.5" fill="#2B2BE0" opacity="1"/>
<rect x="288.12" y="263.59" width="1.2" height="1.2" fill="#2B2BE0" opacity="1"/>
<rect x="283.8" y="269.99" width="1.5" height="1.5" fill="#E85A5A" opacity="0.5"/>
<rect x="307.25" y="206.17" width="1.2" height="1.2" fill="#2B2BE0" opacity="0.75"/>
<rect x="304.05" y="230.31" width="0.9" height="0.9" fill="#2B2BE0" opacity="1"/>
<rect x="189.4" y="311.46" width="1.2" height="1.2" fill="#2B2BE0" opacity="1"/>
<rect x="188.49" y="312.75" width="1.5" height="1.5" fill="#2B2BE0" opacity="1"/>
<rect x="181.97" y="311.17" width="0.9" height="0.9" fill="#2B2BE0" opacity="1"/>
<rect x="175.08" y="308.58" width="1.2" height="1.2" fill="#2B2BE0" opacity="0.75"/>
<rect x="165.99" y="303.8" width="1.5" height="1.5" fill="#2B2BE0" opacity="0.5"/>
<rect x="158.96" y="304.39" width="0.9" height="0.9" fill="#2B2BE0" opacity="0.75"/>
<rect x="152.75" y="299.14" width="1.5" height="1.5" fill="#E85A5A" opacity="0.5"/>
<rect x="149.45" y="297.62" width="0.9" height="0.9" fill="#2B2BE0" opacity="0.5"/>
<rect x="142.98" y="292.73" width="0.9" height="0.9" fill="#2B2BE0" opacity="0.75"/>
<rect x="139.48" y="290.83" width="0.9" height="0.9" fill="#2B2BE0" opacity="0.75"/>
<rect x="130.15" y="289.28" width="0.9" height="0.9" fill="#2B2BE0" opacity="0.75"/>
<rect x="132.36" y="283.66" width="1.5" height="1.5" fill="#2B2BE0" opacity="0.5"/>
<defs><clipPath id="redclip"><path d="M159.52 164.18L155.18 157.39L155.79 156.83L162.26 161.63ZM166.81 158.02L163.31 148.66L164.01 148.2L171.16 155.19ZM172.79 154.26L167.3 138.06L168.14 137.64L177.63 151.88ZM177.08 152.12L174.49 142.89L175.61 142.42L180.3 150.79ZM181.51 150.34L179.82 141.4L180.97 141.03L184.83 149.27ZM185.15 149.18L183.69 130.96L184.61 130.75L191.22 147.79ZM210.86 147.65L217.12 132.34L218.03 132.54L217.35 149.06ZM218.55 149.41L226.95 134.59L227.82 134.91L224.79 151.67ZM224.79 151.67L234.78 136.99L235.63 137.4L230.21 154.31ZM229.02 153.67L239.89 139.68L240.7 140.16L233.86 156.5ZM233.94 156.56L245.82 144.08L246.58 144.63L238.49 159.83ZM236.84 158.57L250.19 145.89L250.93 146.49L241.19 162.11ZM240.33 161.36L253.57 150.41L254.25 151.05L244.11 164.92ZM245.04 165.9L253.49 161.24L254.04 161.88L248.14 169.52ZM247.69 168.96L262.12 159.8L263.13 161.14L250.31 172.44ZM250.97 173.41L266.22 165.69L267.13 167.17L253.32 177.25ZM252.45 175.76L270.07 169.53L270.52 170.37L255.46 181.44ZM256.2 183.09L264.64 181.27L265.14 182.57L257.66 186.89ZM257.43 186.25L275.23 183.35L275.51 184.25L259.13 191.8ZM260.06 196.17L269.54 196.53L269.65 197.36L260.63 200.28ZM260.95 205.67L270.15 206.94L270.14 207.78L260.9 208.79ZM254.42 233.5L261.77 240.32L261.35 241.05L251.74 238.19ZM252.72 236.6L265.45 247.57L264.95 248.35L249.77 241.12ZM248.65 242.62L260.69 256.37L260.07 257.09L244.61 247.36ZM240.16 251.59L244.62 258.94L243.68 259.69L237.44 253.78ZM238.49 252.97L250.23 273.18L249.42 273.77L233.94 256.24ZM233.94 256.24L236.63 264.83L235.91 265.25L229.66 258.79ZM220.92 262.62L223.85 279.44L222.96 279.71L216.15 264.06ZM179.26 261.61L174.64 269.11L173.87 268.78L176.21 260.28ZM177.44 260.84L168.81 274.37L167.98 273.97L173.33 258.84ZM172.33 258.29L150.32 285.28L149.36 284.65L165.39 253.73ZM168.35 255.84L153.36 270.33L152.58 269.74L162.57 251.44ZM165.64 253.92L151.29 264.82L150.58 264.2L159.38 248.47ZM161.25 250.27L147.48 261.6L146.81 260.94L158.01 247.05ZM152.24 239.84L136.15 247.76L135.65 246.96L149.82 235.97ZM149.44 235.3L141.24 238L140.6 236.75L147.59 231.68ZM146.56 229.36L121.69 235.19L121.34 234.22L144.34 223.1ZM142.46 214.17L124.37 213.48L124.29 212.54L142 208.79ZM141.95 206.46L117.49 203.83L117.53 202.81L142.11 201.98ZM142.27 200.28L108.75 190.8L108.95 189.67L143.69 192.11ZM142.8 196.37L118.16 186.64L118.41 185.62L144.77 188.31ZM143.89 191.34L127.7 184.25L128.42 181.99L145.73 185.52ZM145.36 186.54L123.35 172.36L123.77 171.41L149.06 178.19ZM147.39 181.54L130.72 169.03L131.18 168.17L150.83 175.13ZM149.24 177.86L136.11 167.58L137.34 165.59L152.44 172.66ZM152.17 173.06L142.28 163.65L143.42 162.11L155.29 168.86ZM200.49 138.01A68.4 68.4 0 0 1 210.5 138.6L209.32 147.42A59.5 59.5 0 0 0 200.62 146.91ZM250.94 255.2A69.5 69.5 0 0 1 245.19 260.41L238.89 252.64A59.5 59.5 0 0 0 243.82 248.18ZM215.71 272.38A67.5 67.5 0 0 1 203.81 273.86L203.53 265.86A59.5 59.5 0 0 0 214.02 264.56ZM133.3 217.19A69 69 0 0 1 132.54 202.79L142.03 203.29A59.5 59.5 0 0 0 142.68 215.71ZM201.45 145.4A61 61 0 1 1 201.44 145.4L201.44 146.9A59.5 59.5 0 1 0 201.45 146.9Z"/></clipPath></defs>
<path d="M159.52 164.18L155.18 157.39L155.79 156.83L162.26 161.63ZM166.81 158.02L163.31 148.66L164.01 148.2L171.16 155.19ZM172.79 154.26L167.3 138.06L168.14 137.64L177.63 151.88ZM177.08 152.12L174.49 142.89L175.61 142.42L180.3 150.79ZM181.51 150.34L179.82 141.4L180.97 141.03L184.83 149.27ZM185.15 149.18L183.69 130.96L184.61 130.75L191.22 147.79ZM210.86 147.65L217.12 132.34L218.03 132.54L217.35 149.06ZM218.55 149.41L226.95 134.59L227.82 134.91L224.79 151.67ZM224.79 151.67L234.78 136.99L235.63 137.4L230.21 154.31ZM229.02 153.67L239.89 139.68L240.7 140.16L233.86 156.5ZM233.94 156.56L245.82 144.08L246.58 144.63L238.49 159.83ZM236.84 158.57L250.19 145.89L250.93 146.49L241.19 162.11ZM240.33 161.36L253.57 150.41L254.25 151.05L244.11 164.92ZM245.04 165.9L253.49 161.24L254.04 161.88L248.14 169.52ZM247.69 168.96L262.12 159.8L263.13 161.14L250.31 172.44ZM250.97 173.41L266.22 165.69L267.13 167.17L253.32 177.25ZM252.45 175.76L270.07 169.53L270.52 170.37L255.46 181.44ZM256.2 183.09L264.64 181.27L265.14 182.57L257.66 186.89ZM257.43 186.25L275.23 183.35L275.51 184.25L259.13 191.8ZM260.06 196.17L269.54 196.53L269.65 197.36L260.63 200.28ZM260.95 205.67L270.15 206.94L270.14 207.78L260.9 208.79ZM254.42 233.5L261.77 240.32L261.35 241.05L251.74 238.19ZM252.72 236.6L265.45 247.57L264.95 248.35L249.77 241.12ZM248.65 242.62L260.69 256.37L260.07 257.09L244.61 247.36ZM240.16 251.59L244.62 258.94L243.68 259.69L237.44 253.78ZM238.49 252.97L250.23 273.18L249.42 273.77L233.94 256.24ZM233.94 256.24L236.63 264.83L235.91 265.25L229.66 258.79ZM220.92 262.62L223.85 279.44L222.96 279.71L216.15 264.06ZM179.26 261.61L174.64 269.11L173.87 268.78L176.21 260.28ZM177.44 260.84L168.81 274.37L167.98 273.97L173.33 258.84ZM172.33 258.29L150.32 285.28L149.36 284.65L165.39 253.73ZM168.35 255.84L153.36 270.33L152.58 269.74L162.57 251.44ZM165.64 253.92L151.29 264.82L150.58 264.2L159.38 248.47ZM161.25 250.27L147.48 261.6L146.81 260.94L158.01 247.05ZM152.24 239.84L136.15 247.76L135.65 246.96L149.82 235.97ZM149.44 235.3L141.24 238L140.6 236.75L147.59 231.68ZM146.56 229.36L121.69 235.19L121.34 234.22L144.34 223.1ZM142.46 214.17L124.37 213.48L124.29 212.54L142 208.79ZM141.95 206.46L117.49 203.83L117.53 202.81L142.11 201.98ZM142.27 200.28L108.75 190.8L108.95 189.67L143.69 192.11ZM142.8 196.37L118.16 186.64L118.41 185.62L144.77 188.31ZM143.89 191.34L127.7 184.25L128.42 181.99L145.73 185.52ZM145.36 186.54L123.35 172.36L123.77 171.41L149.06 178.19ZM147.39 181.54L130.72 169.03L131.18 168.17L150.83 175.13ZM149.24 177.86L136.11 167.58L137.34 165.59L152.44 172.66ZM152.17 173.06L142.28 163.65L143.42 162.11L155.29 168.86ZM200.49 138.01A68.4 68.4 0 0 1 210.5 138.6L209.32 147.42A59.5 59.5 0 0 0 200.62 146.91ZM250.94 255.2A69.5 69.5 0 0 1 245.19 260.41L238.89 252.64A59.5 59.5 0 0 0 243.82 248.18ZM215.71 272.38A67.5 67.5 0 0 1 203.81 273.86L203.53 265.86A59.5 59.5 0 0 0 214.02 264.56ZM133.3 217.19A69 69 0 0 1 132.54 202.79L142.03 203.29A59.5 59.5 0 0 0 142.68 215.71ZM201.45 145.4A61 61 0 1 1 201.44 145.4L201.44 146.9A59.5 59.5 0 1 0 201.45 146.9Z" fill="#F96F6B"/>
<path d="M161.79 162.04L157.16 154.27L157.8 153.73L164.65 159.64ZM167.32 157.66L163.91 148.27L164.63 147.81L171.7 154.87ZM174.6 153.3L171.69 144.15L172.89 143.59L178.03 151.7ZM177.53 151.92L173.04 134.83L173.92 134.49L182.18 150.11ZM181.98 150.18L178.61 131.92L179.52 131.65L186.75 148.74ZM187.26 148.62L186.5 138.01L188.01 137.7L191.53 147.73ZM192.55 147.57L192.57 137.57L193.41 137.47L195.85 147.16ZM213.07 148.05L216.55 140.1L218.1 140.47L217.59 149.13ZM220.68 150.09L224.49 144.55L225.93 145.11L225.02 151.77ZM225.37 151.92L235.51 137.34L236.35 137.76L230.75 154.61ZM230.85 154.67L237.95 145.5L239.14 146.23L234.19 156.72ZM234.46 156.9L246.47 144.55L247.22 145.1L238.98 160.23ZM237.34 158.94L250.82 146.4L251.55 147.01L241.65 162.53ZM241.84 162.71L248.67 157.46L249.55 158.34L244.43 165.25ZM245.46 166.36L253.96 161.79L254.5 162.44L248.53 170.01ZM246.29 167.29L268.33 153.3L268.97 154.12L250.13 172.19ZM249.71 171.6L272.86 159.93L273.43 160.81L253.18 177.01ZM252.77 176.29L270.45 170.25L270.89 171.09L255.72 182.01ZM256.34 183.44L273.22 179.92L273.54 180.8L258.32 188.9ZM258.11 188.25L266.69 187.21L267.07 188.56L259.22 192.17ZM259.93 217.35L268.42 220.33L268.24 221.15L259.28 220.39ZM253.71 234.85L259.15 240.46L258.73 241.16L251.21 239.01ZM251.64 238.35L256.32 243.07L255.62 244.11L249.51 241.47ZM249.71 241.2L253.71 246.72L253.21 247.35L246.9 244.8ZM247.3 244.33L254.22 252.39L253.2 253.54L244.39 247.58ZM239.78 251.91L248.6 266.64L247.86 267.21L235.83 254.96ZM237.75 253.54L250.26 276.23L249.4 276.83L232.63 257.08ZM233.42 256.58L236.01 265.19L235.29 265.61L229.11 259.08ZM227.72 259.79L230.21 268.79L229.45 269.14L224.32 261.33ZM219.02 263.25L220.2 271.76L219.05 272.08L215.66 264.18ZM206.43 265.69L206.63 283.43L205.69 283.48L203.73 265.86ZM199.68 265.87L197.92 274.91L197.08 274.86L196.37 265.68ZM175.68 260.03L170.86 267.13L169.88 266.63L172.84 258.57ZM173.06 258.69L153.72 283.53L152.78 282.94L166.73 254.72ZM168.87 256.19L154.03 270.83L153.25 270.25L163.05 251.85ZM165.15 253.54L150.68 264.29L149.98 263.67L158.94 248.03ZM157.79 246.83L143.75 256.47L143.14 255.76L154.82 243.36ZM150.5 237.13L127.03 247.06L126.54 246.15L147.75 232.02ZM146.8 229.93L121.99 236.03L121.64 235.06L144.52 223.7ZM141.97 207.96L115.45 205.57L115.47 204.52L142.05 202.97ZM142.46 198.63L111.06 189.24L111.28 188.14L143.9 191.3ZM143.27 193.93L124.82 187.21L125.41 184.97L144.77 188.31ZM143.87 191.4L120.63 179.44L120.96 178.45L146.68 183.15ZM146.29 184.09L129.38 174.05L130.46 171.74L149 178.3ZM147.66 180.97L131.11 168.29L131.58 167.43L151.16 174.61ZM149.21 177.92L129.55 160.68L130.12 159.81L153.93 170.59ZM152.24 172.96L132.86 153.86L133.51 153.03L156.82 167.05ZM197.36 137.52A69 69 0 0 1 211.77 138.18L210.35 147.57A59.5 59.5 0 0 0 197.92 147ZM215.71 272.38A67.5 67.5 0 0 1 203.81 273.86L203.53 265.86A59.5 59.5 0 0 0 214.02 264.56ZM133.5 218.38A69 69 0 0 1 132.54 202.79L142.03 203.29A59.5 59.5 0 0 0 142.85 216.73ZM201.92 139.4L203.61 128.93L204.72 139.48ZM206.36 139.58L208.74 129.24L209.15 139.84ZM201.45 145.4A61 61 0 1 1 201.44 145.4L201.44 146.9A59.5 59.5 0 1 0 201.45 146.9Z" fill="#7272F5"/>
<path d="M161.79 162.04L157.16 154.27L157.8 153.73L164.65 159.64ZM167.32 157.66L163.91 148.27L164.63 147.81L171.7 154.87ZM174.6 153.3L171.69 144.15L172.89 143.59L178.03 151.7ZM177.53 151.92L173.04 134.83L173.92 134.49L182.18 150.11ZM181.98 150.18L178.61 131.92L179.52 131.65L186.75 148.74ZM187.26 148.62L186.5 138.01L188.01 137.7L191.53 147.73ZM192.55 147.57L192.57 137.57L193.41 137.47L195.85 147.16ZM213.07 148.05L216.55 140.1L218.1 140.47L217.59 149.13ZM220.68 150.09L224.49 144.55L225.93 145.11L225.02 151.77ZM225.37 151.92L235.51 137.34L236.35 137.76L230.75 154.61ZM230.85 154.67L237.95 145.5L239.14 146.23L234.19 156.72ZM234.46 156.9L246.47 144.55L247.22 145.1L238.98 160.23ZM237.34 158.94L250.82 146.4L251.55 147.01L241.65 162.53ZM241.84 162.71L248.67 157.46L249.55 158.34L244.43 165.25ZM245.46 166.36L253.96 161.79L254.5 162.44L248.53 170.01ZM246.29 167.29L268.33 153.3L268.97 154.12L250.13 172.19ZM249.71 171.6L272.86 159.93L273.43 160.81L253.18 177.01ZM252.77 176.29L270.45 170.25L270.89 171.09L255.72 182.01ZM256.34 183.44L273.22 179.92L273.54 180.8L258.32 188.9ZM258.11 188.25L266.69 187.21L267.07 188.56L259.22 192.17ZM259.93 217.35L268.42 220.33L268.24 221.15L259.28 220.39ZM253.71 234.85L259.15 240.46L258.73 241.16L251.21 239.01ZM251.64 238.35L256.32 243.07L255.62 244.11L249.51 241.47ZM249.71 241.2L253.71 246.72L253.21 247.35L246.9 244.8ZM247.3 244.33L254.22 252.39L253.2 253.54L244.39 247.58ZM239.78 251.91L248.6 266.64L247.86 267.21L235.83 254.96ZM237.75 253.54L250.26 276.23L249.4 276.83L232.63 257.08ZM233.42 256.58L236.01 265.19L235.29 265.61L229.11 259.08ZM227.72 259.79L230.21 268.79L229.45 269.14L224.32 261.33ZM219.02 263.25L220.2 271.76L219.05 272.08L215.66 264.18ZM206.43 265.69L206.63 283.43L205.69 283.48L203.73 265.86ZM199.68 265.87L197.92 274.91L197.08 274.86L196.37 265.68ZM175.68 260.03L170.86 267.13L169.88 266.63L172.84 258.57ZM173.06 258.69L153.72 283.53L152.78 282.94L166.73 254.72ZM168.87 256.19L154.03 270.83L153.25 270.25L163.05 251.85ZM165.15 253.54L150.68 264.29L149.98 263.67L158.94 248.03ZM157.79 246.83L143.75 256.47L143.14 255.76L154.82 243.36ZM150.5 237.13L127.03 247.06L126.54 246.15L147.75 232.02ZM146.8 229.93L121.99 236.03L121.64 235.06L144.52 223.7ZM141.97 207.96L115.45 205.57L115.47 204.52L142.05 202.97ZM142.46 198.63L111.06 189.24L111.28 188.14L143.9 191.3ZM143.27 193.93L124.82 187.21L125.41 184.97L144.77 188.31ZM143.87 191.4L120.63 179.44L120.96 178.45L146.68 183.15ZM146.29 184.09L129.38 174.05L130.46 171.74L149 178.3ZM147.66 180.97L131.11 168.29L131.58 167.43L151.16 174.61ZM149.21 177.92L129.55 160.68L130.12 159.81L153.93 170.59ZM152.24 172.96L132.86 153.86L133.51 153.03L156.82 167.05ZM197.36 137.52A69 69 0 0 1 211.77 138.18L210.35 147.57A59.5 59.5 0 0 0 197.92 147ZM215.71 272.38A67.5 67.5 0 0 1 203.81 273.86L203.53 265.86A59.5 59.5 0 0 0 214.02 264.56ZM133.5 218.38A69 69 0 0 1 132.54 202.79L142.03 203.29A59.5 59.5 0 0 0 142.85 216.73ZM201.92 139.4L203.61 128.93L204.72 139.48ZM206.36 139.58L208.74 129.24L209.15 139.84ZM201.45 145.4A61 61 0 1 1 201.44 145.4L201.44 146.9A59.5 59.5 0 1 0 201.45 146.9Z" fill="#7835C6" clip-path="url(#redclip)"/>
<circle cx="201.45" cy="206.4" r="60" fill="#fff" stroke="#A8A8A8" stroke-width="0.5"/>
<rect x="503.5" y="33.3" width="227.9" height="289.2" fill="#fff"/>
<line x1="513.13" y1="33.3" x2="513.13" y2="322.5" stroke="#EDEDED" stroke-width="0.55"/>
<line x1="529.18" y1="33.3" x2="529.18" y2="322.5" stroke="#EDEDED" stroke-width="0.55"/>
<line x1="545.23" y1="33.3" x2="545.23" y2="322.5" stroke="#EDEDED" stroke-width="0.55"/>
<line x1="561.28" y1="33.3" x2="561.28" y2="322.5" stroke="#EDEDED" stroke-width="0.55"/>
<line x1="577.33" y1="33.3" x2="577.33" y2="322.5" stroke="#EDEDED" stroke-width="0.55"/>
<line x1="593.38" y1="33.3" x2="593.38" y2="322.5" stroke="#EDEDED" stroke-width="0.55"/>
<line x1="609.43" y1="33.3" x2="609.43" y2="322.5" stroke="#EDEDED" stroke-width="0.55"/>
<line x1="625.47" y1="33.3" x2="625.47" y2="322.5" stroke="#EDEDED" stroke-width="0.55"/>
<line x1="641.52" y1="33.3" x2="641.52" y2="322.5" stroke="#EDEDED" stroke-width="0.55"/>
<line x1="657.57" y1="33.3" x2="657.57" y2="322.5" stroke="#EDEDED" stroke-width="0.55"/>
<line x1="673.62" y1="33.3" x2="673.62" y2="322.5" stroke="#EDEDED" stroke-width="0.55"/>
<line x1="689.67" y1="33.3" x2="689.67" y2="322.5" stroke="#EDEDED" stroke-width="0.55"/>
<line x1="705.72" y1="33.3" x2="705.72" y2="322.5" stroke="#EDEDED" stroke-width="0.55"/>
<line x1="721.77" y1="33.3" x2="721.77" y2="322.5" stroke="#EDEDED" stroke-width="0.55"/>
<line x1="503.5" y1="46.45" x2="731.4" y2="46.45" stroke="#EDEDED" stroke-width="0.55"/>
<line x1="503.5" y1="68.35" x2="731.4" y2="68.35" stroke="#EDEDED" stroke-width="0.55"/>
<line x1="503.5" y1="90.26" x2="731.4" y2="90.26" stroke="#EDEDED" stroke-width="0.55"/>
<line x1="503.5" y1="112.17" x2="731.4" y2="112.17" stroke="#EDEDED" stroke-width="0.55"/>
<line x1="503.5" y1="134.08" x2="731.4" y2="134.08" stroke="#EDEDED" stroke-width="0.55"/>
<line x1="503.5" y1="155.99" x2="731.4" y2="155.99" stroke="#EDEDED" stroke-width="0.55"/>
<line x1="503.5" y1="177.9" x2="731.4" y2="177.9" stroke="#EDEDED" stroke-width="0.55"/>
<line x1="503.5" y1="199.81" x2="731.4" y2="199.81" stroke="#EDEDED" stroke-width="0.55"/>
<line x1="503.5" y1="221.72" x2="731.4" y2="221.72" stroke="#EDEDED" stroke-width="0.55"/>
<line x1="503.5" y1="243.63" x2="731.4" y2="243.63" stroke="#EDEDED" stroke-width="0.55"/>
<line x1="503.5" y1="265.54" x2="731.4" y2="265.54" stroke="#EDEDED" stroke-width="0.55"/>
<line x1="503.5" y1="287.45" x2="731.4" y2="287.45" stroke="#EDEDED" stroke-width="0.55"/>
<line x1="503.5" y1="309.35" x2="731.4" y2="309.35" stroke="#EDEDED" stroke-width="0.55"/>
<rect x="503.5" y="33.3" width="227.9" height="289.2" fill="none" stroke="#C8C8C8" stroke-width="0.7"/>
<line x1="513.13" y1="322.5" x2="513.13" y2="325.2" stroke="#B0B0B0" stroke-width="0.55"/>
<text x="517.13" y="330.1" transform="rotate(-45 517.13 330.1)" font-size="8.4" text-anchor="end" fill="#262626">c.1068C&gt;A</text>
<line x1="529.18" y1="322.5" x2="529.18" y2="325.2" stroke="#B0B0B0" stroke-width="0.55"/>
<text x="533.18" y="330.1" transform="rotate(-45 533.18 330.1)" font-size="8.4" text-anchor="end" fill="#262626">c.1174T&gt;A</text>
<line x1="545.23" y1="322.5" x2="545.23" y2="325.2" stroke="#B0B0B0" stroke-width="0.55"/>
<text x="549.23" y="330.1" transform="rotate(-45 549.23 330.1)" font-size="8.4" text-anchor="end" fill="#262626">c.1197A&gt;T</text>
<line x1="561.28" y1="322.5" x2="561.28" y2="325.2" stroke="#B0B0B0" stroke-width="0.55"/>
<text x="565.28" y="330.1" transform="rotate(-45 565.28 330.1)" font-size="8.4" text-anchor="end" fill="#262626">c.1238G&gt;C</text>
<line x1="577.33" y1="322.5" x2="577.33" y2="325.2" stroke="#B0B0B0" stroke-width="0.55"/>
<text x="581.33" y="330.1" transform="rotate(-45 581.33 330.1)" font-size="8.4" text-anchor="end" fill="#262626">c.1301C&gt;A</text>
<line x1="593.38" y1="322.5" x2="593.38" y2="325.2" stroke="#B0B0B0" stroke-width="0.55"/>
<text x="597.38" y="330.1" transform="rotate(-45 597.38 330.1)" font-size="8.4" text-anchor="end" fill="#262626">c.158G&gt;A</text>
<line x1="609.43" y1="322.5" x2="609.43" y2="325.2" stroke="#B0B0B0" stroke-width="0.55"/>
<text x="613.43" y="330.1" transform="rotate(-45 613.43 330.1)" font-size="8.4" text-anchor="end" fill="#262626">c.208_210del</text>
<line x1="625.47" y1="322.5" x2="625.47" y2="325.2" stroke="#B0B0B0" stroke-width="0.55"/>
<text x="629.47" y="330.1" transform="rotate(-45 629.47 330.1)" font-size="8.4" text-anchor="end" fill="#262626">c.301G&gt;A</text>
<line x1="641.52" y1="322.5" x2="641.52" y2="325.2" stroke="#B0B0B0" stroke-width="0.55"/>
<text x="645.52" y="330.1" transform="rotate(-45 645.52 330.1)" font-size="8.4" text-anchor="end" fill="#262626">c.331C&gt;T</text>
<line x1="657.57" y1="322.5" x2="657.57" y2="325.2" stroke="#B0B0B0" stroke-width="0.55"/>
<text x="661.57" y="330.1" transform="rotate(-45 661.57 330.1)" font-size="8.4" text-anchor="end" fill="#262626">c.442&#8722;1G&gt;A</text>
<line x1="673.62" y1="322.5" x2="673.62" y2="325.2" stroke="#B0B0B0" stroke-width="0.55"/>
<text x="677.62" y="330.1" transform="rotate(-45 677.62 330.1)" font-size="8.4" text-anchor="end" fill="#262626">c.526C&gt;T</text>
<line x1="689.67" y1="322.5" x2="689.67" y2="325.2" stroke="#B0B0B0" stroke-width="0.55"/>
<text x="693.67" y="330.1" transform="rotate(-45 693.67 330.1)" font-size="8.4" text-anchor="end" fill="#262626">c.611A&gt;G</text>
<line x1="705.72" y1="322.5" x2="705.72" y2="325.2" stroke="#B0B0B0" stroke-width="0.55"/>
<text x="709.72" y="330.1" transform="rotate(-45 709.72 330.1)" font-size="8.4" text-anchor="end" fill="#262626">c.721C&gt;T</text>
<line x1="721.77" y1="322.5" x2="721.77" y2="325.2" stroke="#B0B0B0" stroke-width="0.55"/>
<text x="725.77" y="330.1" transform="rotate(-45 725.77 330.1)" font-size="8.4" text-anchor="end" fill="#262626">c.728G&gt;A</text>
<line x1="500.8" y1="46.45" x2="503.5" y2="46.45" stroke="#B0B0B0" stroke-width="0.55"/>
<text x="500.1" y="49.45" font-size="8.4" text-anchor="end" fill="#262626">c.782G&gt;A</text>
<line x1="500.8" y1="68.35" x2="503.5" y2="68.35" stroke="#B0B0B0" stroke-width="0.55"/>
<text x="500.1" y="71.35" font-size="8.4" text-anchor="end" fill="#262626">c.740G&gt;T</text>
<line x1="500.8" y1="90.26" x2="503.5" y2="90.26" stroke="#B0B0B0" stroke-width="0.55"/>
<text x="500.1" y="93.26" font-size="8.4" text-anchor="end" fill="#262626">c.728G&gt;A</text>
<line x1="500.8" y1="112.17" x2="503.5" y2="112.17" stroke="#B0B0B0" stroke-width="0.55"/>
<text x="500.1" y="115.17" font-size="8.4" text-anchor="end" fill="#262626">c.721C&gt;T</text>
<line x1="500.8" y1="134.08" x2="503.5" y2="134.08" stroke="#B0B0B0" stroke-width="0.55"/>
<text x="500.1" y="137.08" font-size="8.4" text-anchor="end" fill="#262626">c.611A&gt;G</text>
<line x1="500.8" y1="155.99" x2="503.5" y2="155.99" stroke="#B0B0B0" stroke-width="0.55"/>
<text x="500.1" y="158.99" font-size="8.4" text-anchor="end" fill="#262626">c.526C&gt;T</text>
<line x1="500.8" y1="177.9" x2="503.5" y2="177.9" stroke="#B0B0B0" stroke-width="0.55"/>
<text x="500.1" y="180.9" font-size="8.4" text-anchor="end" fill="#262626">c.442&#8722;1G&gt;A</text>
<line x1="500.8" y1="199.81" x2="503.5" y2="199.81" stroke="#B0B0B0" stroke-width="0.55"/>
<text x="500.1" y="202.81" font-size="8.4" text-anchor="end" fill="#262626">c.331C&gt;T</text>
<line x1="500.8" y1="221.72" x2="503.5" y2="221.72" stroke="#B0B0B0" stroke-width="0.55"/>
<text x="500.1" y="224.72" font-size="8.4" text-anchor="end" fill="#262626">c.320A&gt;G</text>
<line x1="500.8" y1="243.63" x2="503.5" y2="243.63" stroke="#B0B0B0" stroke-width="0.55"/>
<text x="500.1" y="246.63" font-size="8.4" text-anchor="end" fill="#262626">c.194T&gt;C</text>
<line x1="500.8" y1="265.54" x2="503.5" y2="265.54" stroke="#B0B0B0" stroke-width="0.55"/>
<text x="500.1" y="268.54" font-size="8.4" text-anchor="end" fill="#262626">c.158G&gt;A</text>
<line x1="500.8" y1="287.45" x2="503.5" y2="287.45" stroke="#B0B0B0" stroke-width="0.55"/>
<text x="500.1" y="290.45" font-size="8.4" text-anchor="end" fill="#262626">c.1238G&gt;C</text>
<line x1="500.8" y1="309.35" x2="503.5" y2="309.35" stroke="#B0B0B0" stroke-width="0.55"/>
<text x="500.1" y="312.35" font-size="8.4" text-anchor="end" fill="#262626">c.1197A&gt;T</text>
<circle cx="721.77" cy="46.45" r="2.4" fill="#F8766D"/>
<circle cx="689.67" cy="68.35" r="1.8" fill="#F8766D"/>
<circle cx="721.77" cy="68.35" r="1.8" fill="#F8766D"/>
<circle cx="513.13" cy="90.26" r="2.35" fill="#F8766D"/>
<circle cx="529.18" cy="90.26" r="1.6" fill="#00BA38"/>
<circle cx="545.23" cy="90.26" r="2.9" fill="#F8766D"/>
<circle cx="561.28" cy="90.26" r="2.9" fill="#F8766D"/>
<circle cx="577.33" cy="90.26" r="1.6" fill="#F8766D"/>
<circle cx="593.38" cy="90.26" r="3.3" fill="#00BA38"/>
<circle cx="609.43" cy="90.26" r="2.5" fill="#619CFF"/>
<circle cx="625.47" cy="90.26" r="1.2" fill="#00BA38"/>
<circle cx="641.52" cy="90.26" r="2.5" fill="#F8766D"/>
<circle cx="657.57" cy="90.26" r="3.1" fill="#F8766D"/>
<circle cx="673.62" cy="90.26" r="2.1" fill="#F8766D"/>
<circle cx="689.67" cy="90.26" r="4.1" fill="#F8766D"/>
<circle cx="705.72" cy="90.26" r="2.1" fill="#619CFF"/>
<circle cx="721.77" cy="90.26" r="4.9" fill="#F8766D"/>
<circle cx="577.33" cy="112.17" r="1.1" fill="#619CFF"/>
<circle cx="593.38" cy="112.17" r="1.1" fill="#00BA38"/>
<circle cx="689.67" cy="112.17" r="2.3" fill="#619CFF"/>
<circle cx="705.72" cy="112.17" r="2.2" fill="#00BA38"/>
<circle cx="545.23" cy="134.08" r="2.1" fill="#F8766D"/>
<circle cx="561.28" cy="134.08" r="2.1" fill="#F8766D"/>
<circle cx="593.38" cy="134.08" r="2.1" fill="#00BA38"/>
<circle cx="641.52" cy="134.08" r="2.3" fill="#F8766D"/>
<circle cx="657.57" cy="134.08" r="2.3" fill="#F8766D"/>
<circle cx="689.67" cy="134.08" r="2.3" fill="#F8766D"/>
<circle cx="641.52" cy="155.99" r="1.7" fill="#F8766D"/>
<circle cx="545.23" cy="177.9" r="2.2" fill="#F8766D"/>
<circle cx="513.13" cy="199.81" r="1.7" fill="#F8766D"/>
<circle cx="545.23" cy="199.81" r="1.7" fill="#F8766D"/>
<circle cx="593.38" cy="199.81" r="2.1" fill="#00BA38"/>
<circle cx="545.23" cy="221.72" r="1.2" fill="#00BA38"/>
<circle cx="593.38" cy="243.63" r="1.7" fill="#00BA38"/>
<circle cx="513.13" cy="265.54" r="1.9" fill="#00BA38"/>
<circle cx="545.23" cy="265.54" r="1.9" fill="#00BA38"/>
<circle cx="561.28" cy="265.54" r="1.2" fill="#00BA38"/>
<circle cx="577.33" cy="265.54" r="1.2" fill="#00BA38"/>
<circle cx="513.13" cy="287.45" r="1.9" fill="#F8766D"/>
<circle cx="545.23" cy="287.45" r="1.7" fill="#F8766D"/>
<circle cx="561.28" cy="287.45" r="1.9" fill="#F8766D"/>
<circle cx="513.13" cy="309.35" r="2.5" fill="#F8766D"/>
<circle cx="545.23" cy="309.35" r="2.5" fill="#F8766D"/>
<text x="618.8" y="376.8" font-size="9.7" text-anchor="middle" fill="#1a1a1a">Allele 1</text>
<text x="449.0" y="176" transform="rotate(-90 449.0 176)" font-size="10" text-anchor="middle" fill="#1a1a1a">Allele 2</text>
<text x="743.7" y="123.0" font-size="8.4" fill="#1a1a1a">Phenotype</text>
<circle cx="749.3" cy="134" r="1.5" fill="#F8766D"/>
<text x="759.4" y="137" font-size="8.4" fill="#262626">CPKU</text>
<circle cx="749.3" cy="146.05" r="1.5" fill="#00BA38"/>
<text x="759.4" y="149.05" font-size="8.4" fill="#262626">MHP</text>
<circle cx="749.3" cy="158.1" r="1.5" fill="#619CFF"/>
<text x="759.4" y="161.1" font-size="8.4" fill="#262626">MPKU</text>
<text x="743.7" y="186.9" font-size="8.4" fill="#1a1a1a">Count</text>
<circle cx="749.4" cy="197.9" r="2" fill="#000"/>
<text x="759.8" y="200.9" font-size="8.4" fill="#262626">10</text>
<circle cx="749.4" cy="210.03" r="3.3" fill="#000"/>
<text x="759.8" y="213.03" font-size="8.4" fill="#262626">20</text>
<circle cx="749.4" cy="222.16" r="4" fill="#000"/>
<text x="759.8" y="225.16" font-size="8.4" fill="#262626">30</text>
<circle cx="749.4" cy="234.29" r="4.8" fill="#000"/>
<text x="759.8" y="237.29" font-size="8.4" fill="#262626">40</text>
</svg>
</body></html>
